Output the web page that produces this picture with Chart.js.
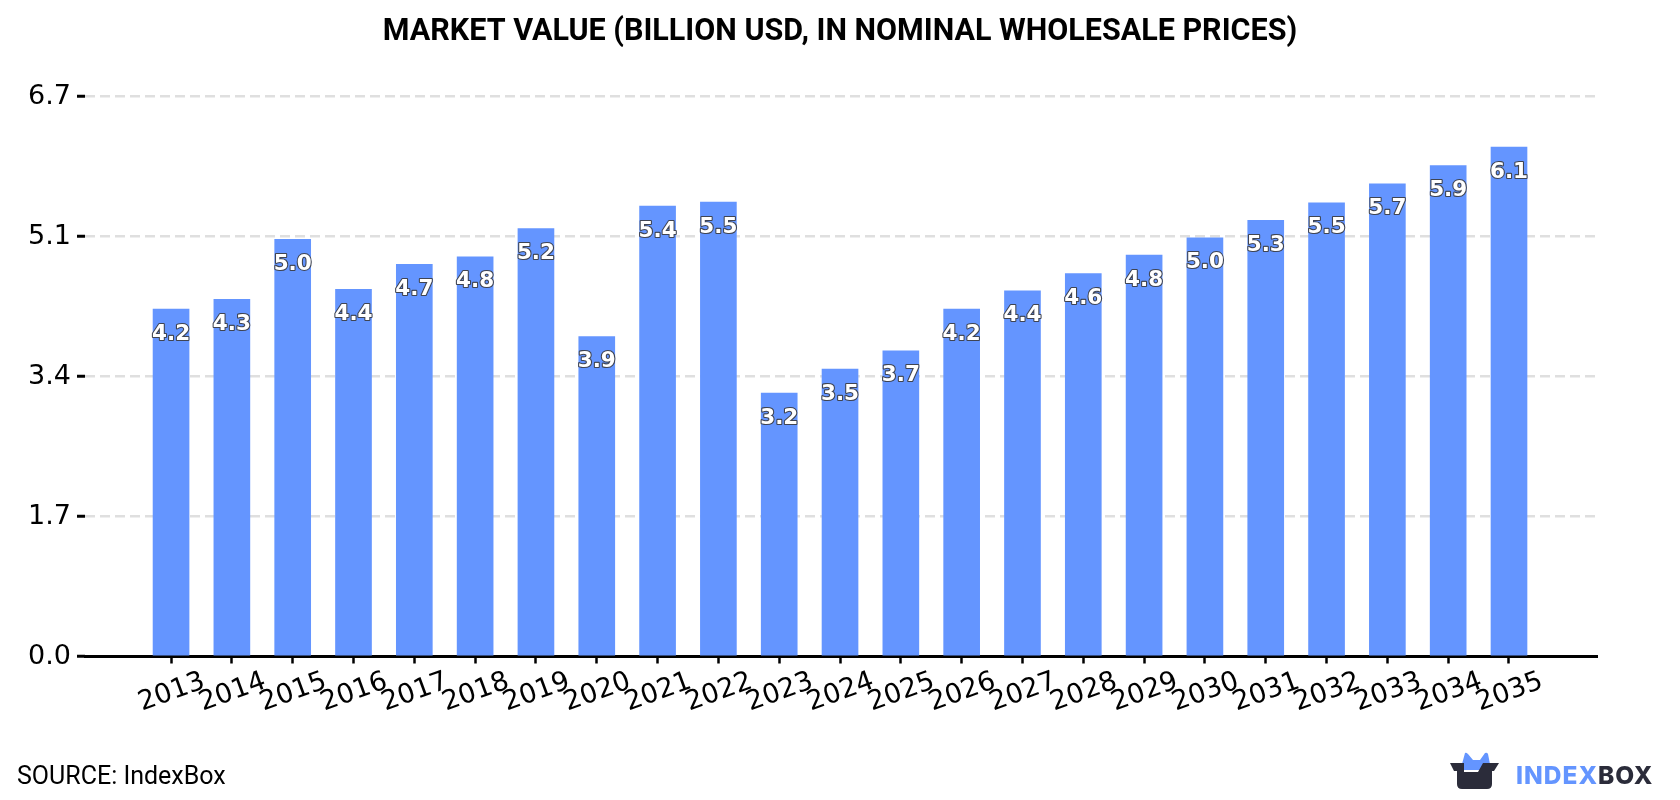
<!DOCTYPE html>
<html>
<head>
<meta charset="utf-8">
<title>Market Value</title>
<script src="https://cdn.jsdelivr.net/npm/chart.js@4/dist/chart.umd.min.js"></script>
<style>
  html, body { margin: 0; padding: 0; background: #fff; }
  #wrap { position: relative; width: 1680px; height: 800px; overflow: hidden; }
  #source { position: absolute; left: 17px; top: 761px; font: 25px Roboto, sans-serif; color: #000; }
  #logo { position: absolute; left: 1450px; top: 750px; }
  #brand { position: absolute; left: 1516px; top: 760px; font: 800 24.5px Inter, sans-serif; letter-spacing: 1px; color: #6495ff; }
  #brand span { color: #2b2c3a; }
</style>
</head>
<body>
<div id="wrap">
  <canvas id="chart" width="1680" height="800"></canvas>
  <div id="source">SOURCE: IndexBox</div>
  <svg id="logo" width="52" height="42" viewBox="0 0 52 42">
    <path d="M12 14 L15 3 Q16 2 18 4 L23 10 L30 10 L35 3 Q37 2 38 4 L40 14 L40 20 L12 20 Z" fill="#6495ff"/>
    <path d="M0 13 L49 13 L44 21 L42 21 L42 34 Q42 39 37 39 L12 39 Q7 39 7 34 L7 21 L4 21 Z M14 22 L28 22 L33 13 L14 13 Z" fill="#2b2c3a" fill-rule="evenodd"/>
  </svg>
  <div id="brand">INDEX<span>BOX</span></div>
</div>
<script>
const years = [2013, 2014, 2015, 2016, 2017, 2018, 2019, 2020, 2021, 2022, 2023, 2024,
               2025, 2026, 2027, 2028, 2029, 2030, 2031, 2032, 2033, 2034, 2035];
const marketValue = [4.18, 4.30, 5.02, 4.42, 4.72, 4.81, 5.15, 3.85, 5.42, 5.47, 3.17, 3.46,
                     3.68, 4.18, 4.40, 4.61, 4.83, 5.04, 5.25, 5.46, 5.69, 5.91, 6.13];
const yTickValues = [0, 1.685, 3.37, 5.055, 6.74];

// 값 라벨: 막대 상단 안쪽에 외곽선 있는 흰 글자
const barLabelPlugin = {
  id: 'barLabels',
  afterDatasetsDraw(chart) {
    const { ctx } = chart;
    const meta = chart.getDatasetMeta(0);
    ctx.save();
    ctx.font = 'bold 21.5px "DejaVu Sans"';
    ctx.textAlign = 'center';
    ctx.textBaseline = 'middle';
    ctx.lineJoin = 'round';
    meta.data.forEach((bar, i) => {
      const text = marketValue[i].toFixed(1);
      ctx.lineWidth = 2.2;
      ctx.strokeStyle = '#3f4452';
      ctx.strokeText(text, bar.x, bar.y + 25);
      ctx.fillStyle = '#fff';
      ctx.fillText(text, bar.x, bar.y + 25);
    });
    ctx.restore();
  }
};

// 오른쪽 여백과 상관없이 제목을 캔버스 가운데에 둠
const centerTitlePlugin = {
  id: 'centerTitle',
  afterLayout(chart) {
    chart.titleBlock.left = 0;
    chart.titleBlock.right = chart.width;
  }
};

const chart = new Chart(document.getElementById('chart'), {
  type: 'bar',
  data: {
    datasets: [{
      data: years.map((y, i) => ({ x: y, y: marketValue[i] })),
      backgroundColor: '#6495ff',
      barThickness: 36
    }]
  },
  options: {
    responsive: false,
    animation: false,
    layout: { padding: { left: 0, right: 83, top: 0, bottom: 0 } },
    plugins: {
      legend: { display: false },
      tooltip: { enabled: false },
      title: {
        display: true,
        text: 'MARKET VALUE (BILLION USD, IN NOMINAL WHOLESALE PRICES)',
        color: '#000',
        font: { family: 'Roboto', size: 30.5, weight: 'bold' },
        padding: { top: 14, bottom: 45.9 }
      }
    },
    scales: {
      x: {
        type: 'linear',
        offset: false,
        min: 2013 - 1.415,
        max: 2035 + 1.447,
        afterBuildTicks: (axis) => { axis.ticks = years.map(y => ({ value: y })); },
        afterFit: (axis) => { axis.height = 143.5; },
        grid: { offset: false, drawOnChartArea: false, tickColor: '#000', tickLength: 7, tickWidth: 2.5 },
        border: { color: '#000', width: 3 },
        ticks: {
          autoSkip: false,
          minRotation: 20,
          maxRotation: 20,
          labelOffset: 33,
          padding: 2,
          color: '#000',
          font: { family: 'DejaVu Sans', size: 27 },
          callback: (v) => String(v)
        }
      },
      y: {
        min: 0,
        max: 6.74,
        afterBuildTicks: (axis) => { axis.ticks = yTickValues.map(v => ({ value: v })); },
        afterFit: (axis) => { axis.width = 85; },
        grid: { color: '#dfdfdf', lineWidth: 2.5, tickColor: '#000', tickLength: 8, tickWidth: 3, tickBorderDash: [] },
        border: { display: false, dash: [10, 5] },
        ticks: {
          padding: 6,
          color: '#000',
          font: { family: 'DejaVu Sans', size: 27 },
          callback: (v) => v.toFixed(1)
        }
      }
    }
  },
  plugins: [barLabelPlugin, centerTitlePlugin]
});
</script>
</body>
</html>
